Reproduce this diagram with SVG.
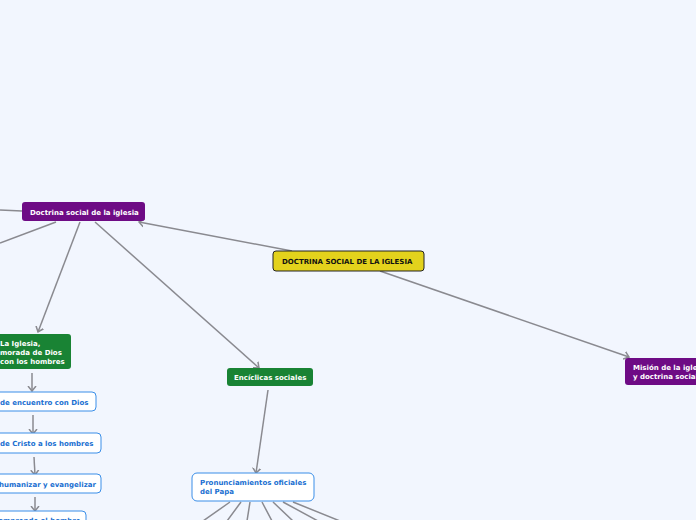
<svg xmlns="http://www.w3.org/2000/svg" width="696" height="520" viewBox="0 0 696 520">
<defs>
<marker id="a" markerWidth="10" markerHeight="10" refX="5" refY="5" orient="auto" markerUnits="userSpaceOnUse"><path d="M0,1 L5,5 L0,9" fill="none" stroke="#8a8a90" stroke-width="1.5"/></marker>
<style>
.c{stroke:#8a8a90;stroke-width:1.5;fill:none}
.t{font-family:Verdana,"DejaVu Sans",sans-serif;font-size:7px;font-weight:bold}
.w{fill:#fff}
.b{fill:#1a6fd1}
.wb{fill:#fff;stroke:#3a8ee8;stroke-width:1}
</style>
</defs>
<rect width="696" height="520" fill="#f2f6fe"/>
<g id="connectors">
<path class="c" d="M0,210 L22,211"/>
<path class="c" d="M56,222 L0,243"/>
<path class="c" d="M80,222 L38,332" marker-end="url(#a)"/>
<path class="c" d="M95,222 L259,368" marker-end="url(#a)"/>
<path class="c" d="M292,251 L139,222" marker-end="url(#a)"/>
<path class="c" d="M380,271 L629,357" marker-end="url(#a)"/>
<path class="c" d="M268,390 L256,473" marker-end="url(#a)"/>
<path class="c" d="M32,373 L32,391" marker-end="url(#a)"/>
<path class="c" d="M33,415 L33,434" marker-end="url(#a)"/>
<path class="c" d="M34,457 L35,475" marker-end="url(#a)"/>
<path class="c" d="M35,497 L35,511" marker-end="url(#a)"/>
<path class="c" d="M230,502 L203,521 M241,502 L227,521 M250,502 L247,521 M262,502 L272,521 M273,502 L293,521 M283,502 L318,521 M293,502 L340,521"/>
</g>
<g id="n-doctrina"><rect x="22" y="202" width="123" height="19" rx="3" fill="#6e0b85"/><text class="t w" x="30" y="215">Doctrina social de la iglesia</text></g>
<g id="n-root"><rect x="273" y="251" width="151" height="20" rx="3" fill="#e3d21c" stroke="#222" stroke-width="1"/><text class="t" x="282" y="264" fill="#111">DOCTRINA SOCIAL DE LA IGLESIA</text></g>
<g id="n-mision"><rect x="625" y="358" width="80" height="27" rx="3" fill="#6e0b85"/><text class="t w" x="633" y="370">Misión de la iglesia</text><text class="t w" x="633" y="379">y doctrina social</text></g>
<g id="n-morada"><rect x="-10" y="334" width="81" height="35" rx="3" fill="#198334"/><text class="t w" x="0" y="346">La Iglesia,</text><text class="t w" x="0" y="355">morada de Dios</text><text class="t w" x="0" y="364">con los hombres</text></g>
<g id="n-enciclicas"><rect x="227" y="368" width="86" height="18" rx="3" fill="#198334"/><text class="t w" x="234" y="380">Encíclicas sociales</text></g>
<g id="n-pronun"><rect x="192" y="473" width="122" height="28" rx="5" class="wb"/><text class="t b" x="200" y="485">Pronunciamientos oficiales</text><text class="t b" x="200" y="494">del Papa</text></g>
<g id="n-encuentro"><rect x="-10" y="392" width="106" height="19" rx="4" class="wb"/><text class="t b" x="0" y="405">de encuentro con Dios</text></g>
<g id="n-cristo"><rect x="-10" y="433" width="111" height="20" rx="4" class="wb"/><text class="t b" x="0" y="446">de Cristo a los hombres</text></g>
<g id="n-humanizar"><rect x="-10" y="474" width="111" height="19" rx="4" class="wb"/><text class="t b" x="-1" y="487">humanizar y evangelizar</text></g>
<g id="n-hombre"><rect x="-10" y="511" width="96" height="20" rx="4" class="wb"/><text class="t b" x="-6" y="523">comprende al hombre</text></g>
</svg>
